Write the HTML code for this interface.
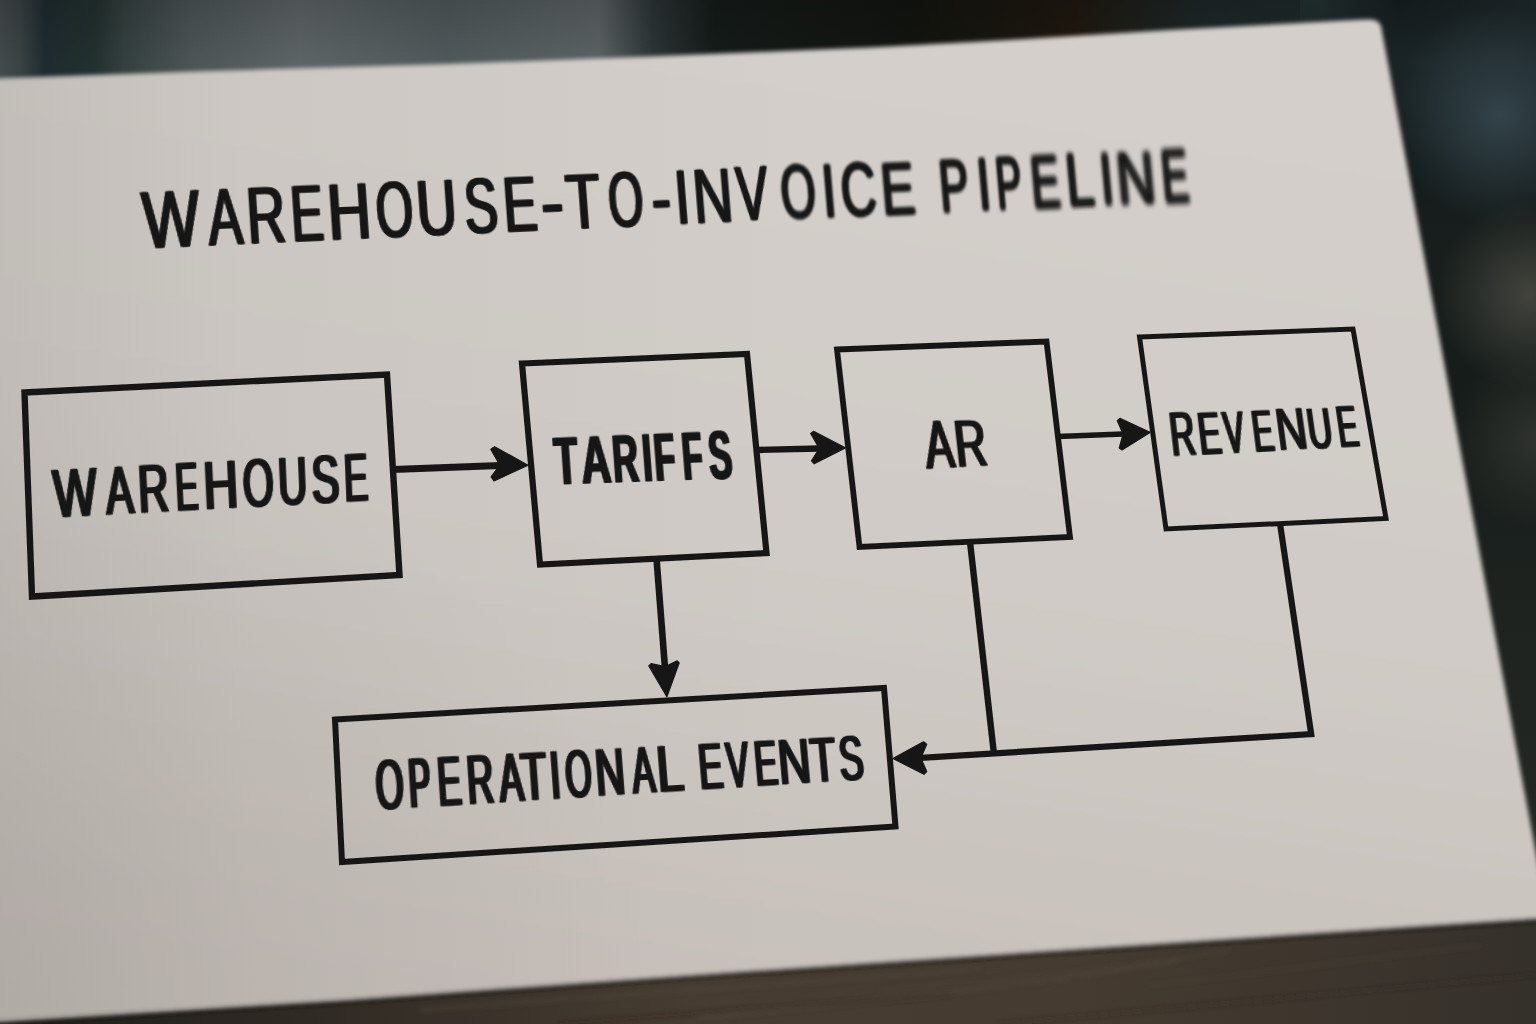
<!DOCTYPE html>
<html><head><meta charset="utf-8"><title>Warehouse-to-Invoice Pipeline</title>
<style>
html,body{margin:0;padding:0;width:1536px;height:1024px;overflow:hidden;background:#1c2224;}
.t{position:absolute;left:0;top:0;transform-origin:0 0;overflow:visible;}
text{font-family:"Liberation Sans",sans-serif;font-kerning:none;}
</style></head><body>
<svg width="1536" height="1024" viewBox="0 0 1536 1024" style="position:absolute;left:0;top:0">
<defs>
 <filter id="woodblur" x="-10%" y="-50%" width="120%" height="200%"><feGaussianBlur stdDeviation="2.5"/></filter>
 <filter id="e1"><feGaussianBlur stdDeviation="0.6"/></filter>
 <linearGradient id="topg" x1="0" y1="0" x2="1536" y2="0" gradientUnits="userSpaceOnUse">
  <stop offset="0" stop-color="#434a4b"/>
  <stop offset="0.013" stop-color="#3a4243"/>
  <stop offset="0.029" stop-color="#1f2b2f"/>
  <stop offset="0.062" stop-color="#22302e"/>
  <stop offset="0.081" stop-color="#34403f"/>
  <stop offset="0.124" stop-color="#4c5455"/>
  <stop offset="0.195" stop-color="#5d6466"/>
  <stop offset="0.29" stop-color="#4f585a"/>
  <stop offset="0.39" stop-color="#5b6264"/>
  <stop offset="0.425" stop-color="#2c3436"/>
  <stop offset="0.465" stop-color="#151b19"/>
  <stop offset="0.59" stop-color="#121410"/>
  <stop offset="0.70" stop-color="#1f180f"/>
  <stop offset="0.78" stop-color="#1d2728"/>
  <stop offset="0.86" stop-color="#1e292a"/>
  <stop offset="0.91" stop-color="#131a1a"/>
  <stop offset="1" stop-color="#1a2325"/>
 </linearGradient>
 <linearGradient id="topshade" x1="0" y1="0" x2="0" y2="90" gradientUnits="userSpaceOnUse">
  <stop offset="0" stop-color="#000" stop-opacity="0.16"/>
  <stop offset="0.7" stop-color="#000" stop-opacity="0"/>
 </linearGradient>
 <linearGradient id="rightg" x1="0" y1="0" x2="0" y2="1024" gradientUnits="userSpaceOnUse">
  <stop offset="0" stop-color="#1a2426" stop-opacity="0"/>
  <stop offset="0.06" stop-color="#1a2426" stop-opacity="1"/>
  <stop offset="0.16" stop-color="#141c1c"/>
  <stop offset="0.25" stop-color="#181e1c"/>
  <stop offset="0.4" stop-color="#161c1a"/>
  <stop offset="0.6" stop-color="#1e2320"/>
  <stop offset="0.83" stop-color="#232823"/>
  <stop offset="1" stop-color="#2a2a24"/>
 </linearGradient>
 <radialGradient id="blobA" cx="1500" cy="115" r="110" gradientUnits="userSpaceOnUse">
  <stop offset="0" stop-color="#33434a" stop-opacity="1"/>
  <stop offset="1" stop-color="#33434a" stop-opacity="0"/>
 </radialGradient>
 <radialGradient id="blobB" cx="1530" cy="295" r="95" gradientUnits="userSpaceOnUse">
  <stop offset="0" stop-color="#42433d" stop-opacity="1"/>
  <stop offset="1" stop-color="#42433d" stop-opacity="0"/>
 </radialGradient>
 <radialGradient id="blobC" cx="1540" cy="440" r="90" gradientUnits="userSpaceOnUse">
  <stop offset="0" stop-color="#30332e" stop-opacity="1"/>
  <stop offset="1" stop-color="#30332e" stop-opacity="0"/>
 </radialGradient>
 <linearGradient id="woodg" x1="0" y1="0" x2="1536" y2="0" gradientUnits="userSpaceOnUse">
  <stop offset="0" stop-color="#201e1b"/>
  <stop offset="0.2" stop-color="#302a24"/>
  <stop offset="0.45" stop-color="#463c31"/>
  <stop offset="0.7" stop-color="#453b30"/>
  <stop offset="0.88" stop-color="#3c352d"/>
  <stop offset="1" stop-color="#34302a"/>
 </linearGradient>
 <linearGradient id="cardg" x1="700" y1="60" x2="560" y2="1010" gradientUnits="userSpaceOnUse">
  <stop offset="0" stop-color="#d4cfca"/>
  <stop offset="0.5" stop-color="#d0cbc6"/>
  <stop offset="1" stop-color="#c6bfba"/>
 </linearGradient>
 <linearGradient id="cardleft" x1="0" y1="0" x2="800" y2="0" gradientUnits="userSpaceOnUse">
  <stop offset="0" stop-color="#8a8681" stop-opacity="0.22"/>
  <stop offset="0.3" stop-color="#8a8681" stop-opacity="0.09"/>
  <stop offset="1" stop-color="#8a8681" stop-opacity="0"/>
 </linearGradient>
 <radialGradient id="cardshade" cx="0" cy="1024" r="650" gradientUnits="userSpaceOnUse">
  <stop offset="0" stop-color="#9e9893" stop-opacity="0.3"/>
  <stop offset="1" stop-color="#9e9893" stop-opacity="0"/>
 </radialGradient>
 <filter id="cardblur" x="-5%" y="-5%" width="110%" height="110%"><feGaussianBlur stdDeviation="2.2"/></filter>
</defs>
<rect x="0" y="0" width="1536" height="1024" fill="url(#topg)"/>
<rect x="0" y="0" width="1300" height="90" fill="url(#topshade)"/>
<rect x="1300" y="0" width="236" height="1024" fill="url(#rightg)"/>
<rect x="1300" y="0" width="236" height="1024" fill="url(#blobA)"/>
<rect x="1300" y="0" width="236" height="1024" fill="url(#blobB)"/>
<rect x="1300" y="0" width="236" height="1024" fill="url(#blobC)"/>
<polygon points="-20,960 1600,860 1600,1100 -20,1100" fill="url(#woodg)"/>
<g filter="url(#woodblur)" fill="none" stroke-linecap="round">
 <path d="M420,1010 C600,995 800,985 980,968" stroke="#54483a" stroke-width="3" opacity="0.55"/>
 <path d="M700,1018 C850,1003 1000,990 1180,960" stroke="#56493b" stroke-width="3" opacity="0.5"/>
 <path d="M880,990 C1000,980 1100,972 1230,950" stroke="#4f4437" stroke-width="2.5" opacity="0.5"/>
 <path d="M1150,985 C1250,975 1350,960 1480,945" stroke="#4a4035" stroke-width="2.5" opacity="0.45"/>
 <path d="M560,1024 C700,1012 820,1005 950,995" stroke="#2c2620" stroke-width="4" opacity="0.3"/>
 <path d="M1000,1024 C1150,1010 1300,995 1536,975" stroke="#2a2520" stroke-width="5" opacity="0.25"/>
</g>
<g filter="url(#cardblur)"><polyline points="-20,1023.5 0,1022.3 350,1000.8 710,975.2 1070,951 1430,926.8 1548,919" stroke="#1c1a17" stroke-width="4" fill="none"/><polygon points="-20.0,79.3 0.0,78.6 200.0,71.5 450.0,64.1 650.0,56.5 880.0,47.0 1000.0,40.5 1170.0,30.0 1360.0,19.8 1372.0,19.6 1378.0,21.5 1381.0,26.0 1548.0,917.2 1430.0,925.0 1070.0,949.2 710.0,973.4 350.0,999.0 0.0,1020.5 -20.0,1021.7" fill="url(#cardg)"/></g><polygon points="-20.0,79.3 0.0,78.6 200.0,71.5 450.0,64.1 650.0,56.5 880.0,47.0 1000.0,40.5 1170.0,30.0 1360.0,19.8 1372.0,19.6 1378.0,21.5 1381.0,26.0 1548.0,917.2 1430.0,925.0 1070.0,949.2 710.0,973.4 350.0,999.0 0.0,1020.5 -20.0,1021.7" fill="url(#cardleft)"/><polygon points="-20.0,79.3 0.0,78.6 200.0,71.5 450.0,64.1 650.0,56.5 880.0,47.0 1000.0,40.5 1170.0,30.0 1360.0,19.8 1372.0,19.6 1378.0,21.5 1381.0,26.0 1548.0,917.2 1430.0,925.0 1070.0,949.2 710.0,973.4 350.0,999.0 0.0,1020.5 -20.0,1021.7" fill="url(#cardshade)"/><g fill="none" stroke="#181818" stroke-linejoin="miter" stroke-linecap="square" filter="url(#e1)"><polygon points="24.5,392.5 387.0,374.5 399.5,575.0 32.0,596.5" stroke-width="6.4"/><polygon points="522.0,363.5 747.0,354.0 766.5,553.0 540.0,564.5" stroke-width="6.2"/><polygon points="837.0,349.5 1046.5,341.5 1070.0,537.0 859.5,547.0" stroke-width="5.8"/><polygon points="1139.5,337.0 1353.0,329.0 1386.0,518.5 1166.0,529.0" stroke-width="5.0"/><polygon points="335.0,719.5 884.0,688.0 895.5,826.5 342.0,862.0" stroke-width="6.0"/><polyline points="392.9,469.5 500.0,465.5" stroke-width="6.8" stroke-linecap="butt"/><polyline points="756.4,450.0 819.3,448.5" stroke-width="6.4" stroke-linecap="butt"/><polyline points="1057.9,436.5 1123.1,434.0" stroke-width="5.4" stroke-linecap="butt"/><polyline points="656.5,558.6 664.9,666.7" stroke-width="6.6" stroke-linecap="butt"/><polyline points="970.0,541.8 993.8,752.6" stroke-width="6.4" stroke-linecap="butt"/><polyline points="1280.0,523.6 1311.2,734.1 920.8,757.9" stroke-width="6.2" stroke-linecap="butt"/></g><g fill="#181818" stroke="#181818" stroke-width="1.2" stroke-linejoin="round" filter="url(#e1)"><polygon points="528.0,465.2 494.6,446.7 490.8,449.3 499.9,465.2 491.1,476.9 494.0,481.0"/><polygon points="845.3,447.9 813.6,431.3 810.7,433.4 819.3,448.5 811.5,460.8 814.2,463.8"/><polygon points="1150.0,432.4 1119.9,418.4 1117.2,420.6 1123.1,434.0 1119.3,448.0 1122.0,450.1"/><polygon points="666.9,696.7 648.8,666.0 651.2,663.6 664.9,666.7 677.2,660.8 679.2,662.9"/><polygon points="892.9,758.5 923.5,741.8 926.7,744.2 920.8,757.9 926.7,771.6 924.0,774.3"/></g></svg>
<svg class="t" width="1104" height="103" style="transform:matrix3d(1.11327559,-0.0262661943,0,9.51054367e-05,0.0594693473,1.04140128,0,-3.1838036e-05,0,0,1,0,117.222883,172.440878,0,1);"><defs><filter id="gb2" x="-50%" y="-50%" width="200%" height="200%"><feGaussianBlur stdDeviation="0.2"/></filter><filter id="gb4" x="-50%" y="-50%" width="200%" height="200%"><feGaussianBlur stdDeviation="0.4"/></filter><filter id="gb6" x="-50%" y="-50%" width="200%" height="200%"><feGaussianBlur stdDeviation="0.6"/></filter><filter id="gb8" x="-50%" y="-50%" width="200%" height="200%"><feGaussianBlur stdDeviation="0.8"/></filter><filter id="gb9" x="-50%" y="-50%" width="200%" height="200%"><feGaussianBlur stdDeviation="0.9"/></filter><filter id="gb11" x="-50%" y="-50%" width="200%" height="200%"><feGaussianBlur stdDeviation="1.1"/></filter><filter id="gb13" x="-50%" y="-50%" width="200%" height="200%"><feGaussianBlur stdDeviation="1.3"/></filter><filter id="gb15" x="-50%" y="-50%" width="200%" height="200%"><feGaussianBlur stdDeviation="1.5"/></filter><filter id="gb17" x="-50%" y="-50%" width="200%" height="200%"><feGaussianBlur stdDeviation="1.7"/></filter><filter id="gb19" x="-50%" y="-50%" width="200%" height="200%"><feGaussianBlur stdDeviation="1.9"/></filter><filter id="gb21" x="-50%" y="-50%" width="200%" height="200%"><feGaussianBlur stdDeviation="2.1"/></filter><filter id="gb23" x="-50%" y="-50%" width="200%" height="200%"><feGaussianBlur stdDeviation="2.3"/></filter><filter id="gb24" x="-50%" y="-50%" width="200%" height="200%"><feGaussianBlur stdDeviation="2.4"/></filter><filter id="gb26" x="-50%" y="-50%" width="200%" height="200%"><feGaussianBlur stdDeviation="2.6"/></filter><filter id="gb28" x="-50%" y="-50%" width="200%" height="200%"><feGaussianBlur stdDeviation="2.8"/></filter><filter id="gb30" x="-50%" y="-50%" width="200%" height="200%"><feGaussianBlur stdDeviation="3.0"/></filter><filter id="gb32" x="-50%" y="-50%" width="200%" height="200%"><feGaussianBlur stdDeviation="3.2"/></filter></defs><g font-size="77.03" font-weight="normal" fill="#161616" stroke="#161616" stroke-width="0.77" stroke-linejoin="round"><text transform="matrix(0.71784,0,0,1,19.20,0)" x="0" y="73.15" vector-effect="non-scaling-stroke">W</text><text transform="matrix(0.71784,0,0,1,21.13,0)" x="0" y="73.15" vector-effect="non-scaling-stroke">W</text><text transform="matrix(0.61136,0,0,1,79.25,0)" x="0" y="73.15" vector-effect="non-scaling-stroke">A</text><text transform="matrix(0.61136,0,0,1,81.17,0)" x="0" y="73.15" vector-effect="non-scaling-stroke">A</text><text transform="matrix(0.64636,0,0,1,114.93,0)" x="0" y="73.15" vector-effect="non-scaling-stroke">R</text><text transform="matrix(0.64636,0,0,1,116.85,0)" x="0" y="73.15" vector-effect="non-scaling-stroke">R</text><text transform="matrix(0.58704,0,0,1,156.04,0)" x="0" y="73.15" vector-effect="non-scaling-stroke">E</text><text transform="matrix(0.58704,0,0,1,157.97,0)" x="0" y="73.15" vector-effect="non-scaling-stroke">E</text><text transform="matrix(0.73553,0,0,1,190.26,0)" x="0" y="73.15" vector-effect="non-scaling-stroke">H</text><text transform="matrix(0.73553,0,0,1,192.19,0)" x="0" y="73.15" vector-effect="non-scaling-stroke">H</text><text transform="matrix(0.58852,0,0,1,235.99,0)" x="0" y="73.15" vector-effect="non-scaling-stroke">O</text><text transform="matrix(0.58852,0,0,1,237.91,0)" x="0" y="73.15" vector-effect="non-scaling-stroke">O</text><text transform="matrix(0.69121,0,0,1,274.65,0)" x="0" y="73.15" vector-effect="non-scaling-stroke">U</text><text transform="matrix(0.69121,0,0,1,276.58,0)" x="0" y="73.15" vector-effect="non-scaling-stroke">U</text><text transform="matrix(0.62136,0,0,1,320.50,0)" x="0" y="73.15" vector-effect="non-scaling-stroke">S</text><text transform="matrix(0.62136,0,0,1,322.43,0)" x="0" y="73.15" vector-effect="non-scaling-stroke">S</text><text transform="matrix(0.63757,0,0,1,357.95,0)" x="0" y="73.15" vector-effect="non-scaling-stroke">E</text><text transform="matrix(0.63757,0,0,1,359.88,0)" x="0" y="73.15" vector-effect="non-scaling-stroke">E</text><text transform="matrix(0.88301,0,0,1,394.33,0)" x="0" y="73.15" vector-effect="non-scaling-stroke">-</text><text transform="matrix(0.88301,0,0,1,396.26,0)" x="0" y="73.15" vector-effect="non-scaling-stroke">-</text><text transform="matrix(0.71752,0,0,1,419.39,0)" x="0" y="73.15" vector-effect="non-scaling-stroke">T</text><text transform="matrix(0.71752,0,0,1,421.31,0)" x="0" y="73.15" vector-effect="non-scaling-stroke">T</text><text transform="matrix(0.57607,0,0,1,460.79,0)" x="0" y="73.15" vector-effect="non-scaling-stroke" filter="url(#gb2)">O</text><text transform="matrix(0.57607,0,0,1,462.72,0)" x="0" y="73.15" vector-effect="non-scaling-stroke" filter="url(#gb2)">O</text><text transform="matrix(0.73953,0,0,1,503.66,0)" x="0" y="73.15" vector-effect="non-scaling-stroke" filter="url(#gb4)">-</text><text transform="matrix(0.73953,0,0,1,505.59,0)" x="0" y="73.15" vector-effect="non-scaling-stroke" filter="url(#gb4)">-</text><text transform="matrix(0.62946,0,0,1,527.46,0)" x="0" y="73.15" vector-effect="non-scaling-stroke" filter="url(#gb6)">I</text><text transform="matrix(0.62946,0,0,1,529.39,0)" x="0" y="73.15" vector-effect="non-scaling-stroke" filter="url(#gb6)">I</text><text transform="matrix(0.71686,0,0,1,545.09,0)" x="0" y="73.15" vector-effect="non-scaling-stroke" filter="url(#gb8)">N</text><text transform="matrix(0.71686,0,0,1,547.01,0)" x="0" y="73.15" vector-effect="non-scaling-stroke" filter="url(#gb8)">N</text><text transform="matrix(0.61772,0,0,1,589.15,0)" x="0" y="73.15" vector-effect="non-scaling-stroke" filter="url(#gb9)">V</text><text transform="matrix(0.61772,0,0,1,591.08,0)" x="0" y="73.15" vector-effect="non-scaling-stroke" filter="url(#gb9)">V</text><text transform="matrix(0.59606,0,0,1,633.81,0)" x="0" y="73.15" vector-effect="non-scaling-stroke" filter="url(#gb11)">O</text><text transform="matrix(0.59606,0,0,1,635.73,0)" x="0" y="73.15" vector-effect="non-scaling-stroke" filter="url(#gb11)">O</text><text transform="matrix(0.62946,0,0,1,676.44,0)" x="0" y="73.15" vector-effect="non-scaling-stroke" filter="url(#gb13)">I</text><text transform="matrix(0.62946,0,0,1,678.36,0)" x="0" y="73.15" vector-effect="non-scaling-stroke" filter="url(#gb13)">I</text><text transform="matrix(0.65596,0,0,1,695.25,0)" x="0" y="73.15" vector-effect="non-scaling-stroke" filter="url(#gb15)">C</text><text transform="matrix(0.65596,0,0,1,697.18,0)" x="0" y="73.15" vector-effect="non-scaling-stroke" filter="url(#gb15)">C</text><text transform="matrix(0.68748,0,0,1,736.69,0)" x="0" y="73.15" vector-effect="non-scaling-stroke" filter="url(#gb17)">E</text><text transform="matrix(0.68748,0,0,1,738.61,0)" x="0" y="73.15" vector-effect="non-scaling-stroke" filter="url(#gb17)">E</text><text transform="matrix(0.60105,0,0,1,797.67,0)" x="0" y="73.15" vector-effect="non-scaling-stroke" filter="url(#gb19)">P</text><text transform="matrix(0.60105,0,0,1,799.60,0)" x="0" y="73.15" vector-effect="non-scaling-stroke" filter="url(#gb19)">P</text><text transform="matrix(0.62946,0,0,1,837.89,0)" x="0" y="73.15" vector-effect="non-scaling-stroke" filter="url(#gb21)">I</text><text transform="matrix(0.62946,0,0,1,839.82,0)" x="0" y="73.15" vector-effect="non-scaling-stroke" filter="url(#gb21)">I</text><text transform="matrix(0.52792,0,0,1,857.54,0)" x="0" y="73.15" vector-effect="non-scaling-stroke" filter="url(#gb23)">P</text><text transform="matrix(0.52792,0,0,1,859.46,0)" x="0" y="73.15" vector-effect="non-scaling-stroke" filter="url(#gb23)">P</text><text transform="matrix(0.60387,0,0,1,894.64,0)" x="0" y="73.15" vector-effect="non-scaling-stroke" filter="url(#gb24)">E</text><text transform="matrix(0.60387,0,0,1,896.57,0)" x="0" y="73.15" vector-effect="non-scaling-stroke" filter="url(#gb24)">E</text><text transform="matrix(0.71038,0,0,1,932.02,0)" x="0" y="73.15" vector-effect="non-scaling-stroke" filter="url(#gb26)">L</text><text transform="matrix(0.71038,0,0,1,933.95,0)" x="0" y="73.15" vector-effect="non-scaling-stroke" filter="url(#gb26)">L</text><text transform="matrix(0.62946,0,0,1,969.44,0)" x="0" y="73.15" vector-effect="non-scaling-stroke" filter="url(#gb28)">I</text><text transform="matrix(0.62946,0,0,1,971.36,0)" x="0" y="73.15" vector-effect="non-scaling-stroke" filter="url(#gb28)">I</text><text transform="matrix(0.75525,0,0,1,986.83,0)" x="0" y="73.15" vector-effect="non-scaling-stroke" filter="url(#gb30)">N</text><text transform="matrix(0.75525,0,0,1,988.76,0)" x="0" y="73.15" vector-effect="non-scaling-stroke" filter="url(#gb30)">N</text><text transform="matrix(0.57600,0,0,1,1035.89,0)" x="0" y="73.15" vector-effect="non-scaling-stroke" filter="url(#gb32)">E</text><text transform="matrix(0.57600,0,0,1,1037.82,0)" x="0" y="73.15" vector-effect="non-scaling-stroke" filter="url(#gb32)">E</text></g></svg><svg class="t" width="374" height="96" style="transform:matrix3d(1.01404122,-0.0391890671,0,3.02665413e-05,0.058558808,1.03357771,0,5.33998135e-05,0,0,1,0,30.5348451,451.199193,0,1);"><g font-size="67.83" font-weight="normal" fill="#161616" stroke="#161616" stroke-width="0.85" stroke-linejoin="round"><text transform="matrix(0.67337,0,0,1,18.91,0)" x="0" y="66.80" vector-effect="non-scaling-stroke">W</text><text transform="matrix(0.67337,0,0,1,21.28,0)" x="0" y="66.80" vector-effect="non-scaling-stroke">W</text><text transform="matrix(0.59899,0,0,1,71.12,0)" x="0" y="66.80" vector-effect="non-scaling-stroke">A</text><text transform="matrix(0.59899,0,0,1,73.49,0)" x="0" y="66.80" vector-effect="non-scaling-stroke">A</text><text transform="matrix(0.61681,0,0,1,103.28,0)" x="0" y="66.80" vector-effect="non-scaling-stroke">R</text><text transform="matrix(0.61681,0,0,1,105.66,0)" x="0" y="66.80" vector-effect="non-scaling-stroke">R</text><text transform="matrix(0.49636,0,0,1,140.32,0)" x="0" y="66.80" vector-effect="non-scaling-stroke">E</text><text transform="matrix(0.49636,0,0,1,142.70,0)" x="0" y="66.80" vector-effect="non-scaling-stroke">E</text><text transform="matrix(0.71076,0,0,1,168.13,0)" x="0" y="66.80" vector-effect="non-scaling-stroke">H</text><text transform="matrix(0.71076,0,0,1,170.50,0)" x="0" y="66.80" vector-effect="non-scaling-stroke">H</text><text transform="matrix(0.58253,0,0,1,207.83,0)" x="0" y="66.80" vector-effect="non-scaling-stroke">O</text><text transform="matrix(0.58253,0,0,1,210.21,0)" x="0" y="66.80" vector-effect="non-scaling-stroke">O</text><text transform="matrix(0.59250,0,0,1,243.11,0)" x="0" y="66.80" vector-effect="non-scaling-stroke">U</text><text transform="matrix(0.59250,0,0,1,245.48,0)" x="0" y="66.80" vector-effect="non-scaling-stroke">U</text><text transform="matrix(0.61191,0,0,1,276.82,0)" x="0" y="66.80" vector-effect="non-scaling-stroke">S</text><text transform="matrix(0.61191,0,0,1,279.20,0)" x="0" y="66.80" vector-effect="non-scaling-stroke">S</text><text transform="matrix(0.52962,0,0,1,309.35,0)" x="0" y="66.80" vector-effect="non-scaling-stroke">E</text><text transform="matrix(0.52962,0,0,1,311.73,0)" x="0" y="66.80" vector-effect="non-scaling-stroke">E</text></g></svg><svg class="t" width="238" height="96" style="transform:matrix3d(0.920718357,-0.0827928121,0,-9.89000939e-05,0.00243861758,0.933528641,0,-0.000110915317,0,0,1,0,532.216302,419.346461,0,1);"><g font-size="67.54" font-weight="bold" fill="#161616" stroke="#161616" stroke-width="0.68" stroke-linejoin="round"><text transform="matrix(0.57796,0,0,1,18.93,0)" x="0" y="66.60" vector-effect="non-scaling-stroke">T</text><text transform="matrix(0.57796,0,0,1,20.62,0)" x="0" y="66.60" vector-effect="non-scaling-stroke">T</text><text transform="matrix(0.60823,0,0,1,46.12,0)" x="0" y="66.60" vector-effect="non-scaling-stroke">A</text><text transform="matrix(0.60823,0,0,1,47.81,0)" x="0" y="66.60" vector-effect="non-scaling-stroke">A</text><text transform="matrix(0.52987,0,0,1,77.73,0)" x="0" y="66.60" vector-effect="non-scaling-stroke">R</text><text transform="matrix(0.52987,0,0,1,79.41,0)" x="0" y="66.60" vector-effect="non-scaling-stroke">R</text><text transform="matrix(0.51681,0,0,1,107.76,0)" x="0" y="66.60" vector-effect="non-scaling-stroke">I</text><text transform="matrix(0.51681,0,0,1,109.45,0)" x="0" y="66.60" vector-effect="non-scaling-stroke">I</text><text transform="matrix(0.50374,0,0,1,119.52,0)" x="0" y="66.60" vector-effect="non-scaling-stroke">F</text><text transform="matrix(0.50374,0,0,1,121.21,0)" x="0" y="66.60" vector-effect="non-scaling-stroke">F</text><text transform="matrix(0.48332,0,0,1,147.46,0)" x="0" y="66.60" vector-effect="non-scaling-stroke">F</text><text transform="matrix(0.48332,0,0,1,149.15,0)" x="0" y="66.60" vector-effect="non-scaling-stroke">F</text><text transform="matrix(0.50063,0,0,1,173.71,0)" x="0" y="66.60" vector-effect="non-scaling-stroke">S</text><text transform="matrix(0.50063,0,0,1,175.39,0)" x="0" y="66.60" vector-effect="non-scaling-stroke">S</text></g></svg><svg class="t" width="121" height="95" style="transform:matrix3d(1.77374127,0.309123183,0,0.000774656157,0.0324151182,0.997451322,0,-8.44772254e-05,0,0,1,0,896.576165,401.186718,0,1);"><g font-size="66.45" font-weight="normal" fill="#161616" stroke="#161616" stroke-width="0.83" stroke-linejoin="round"><text transform="matrix(0.62004,0,0,1,21.17,0)" x="0" y="65.85" vector-effect="non-scaling-stroke">A</text><text transform="matrix(0.62004,0,0,1,23.50,0)" x="0" y="65.85" vector-effect="non-scaling-stroke">A</text><text transform="matrix(0.67654,0,0,1,50.13,0)" x="0" y="65.85" vector-effect="non-scaling-stroke">R</text><text transform="matrix(0.67654,0,0,1,52.46,0)" x="0" y="65.85" vector-effect="non-scaling-stroke">R</text></g></svg><svg class="t" width="241" height="90" style="transform:matrix3d(1.50179703,0.113529839,0,0.00037080323,-0.121817305,0.944389334,0,-0.000203018604,0,0,1,0,1147.32992,394.331209,0,1);"><g font-size="58.48" font-weight="normal" fill="#161616" stroke="#161616" stroke-width="0.73" stroke-linejoin="round"><text transform="matrix(0.55090,0,0,1,15.97,0)" x="0" y="60.35" vector-effect="non-scaling-stroke">R</text><text transform="matrix(0.55090,0,0,1,18.02,0)" x="0" y="60.35" vector-effect="non-scaling-stroke">R</text><text transform="matrix(0.54913,0,0,1,42.43,0)" x="0" y="60.35" vector-effect="non-scaling-stroke">E</text><text transform="matrix(0.54913,0,0,1,44.48,0)" x="0" y="60.35" vector-effect="non-scaling-stroke">E</text><text transform="matrix(0.49917,0,0,1,67.36,0)" x="0" y="60.35" vector-effect="non-scaling-stroke">V</text><text transform="matrix(0.49917,0,0,1,69.41,0)" x="0" y="60.35" vector-effect="non-scaling-stroke">V</text><text transform="matrix(0.52359,0,0,1,95.16,0)" x="0" y="60.35" vector-effect="non-scaling-stroke">E</text><text transform="matrix(0.52359,0,0,1,97.21,0)" x="0" y="60.35" vector-effect="non-scaling-stroke">E</text><text transform="matrix(0.73320,0,0,1,118.78,0)" x="0" y="60.35" vector-effect="non-scaling-stroke">N</text><text transform="matrix(0.73320,0,0,1,120.83,0)" x="0" y="60.35" vector-effect="non-scaling-stroke">N</text><text transform="matrix(0.59048,0,0,1,150.94,0)" x="0" y="60.35" vector-effect="non-scaling-stroke">U</text><text transform="matrix(0.59048,0,0,1,152.99,0)" x="0" y="60.35" vector-effect="non-scaling-stroke">U</text><text transform="matrix(0.56247,0,0,1,181.56,0)" x="0" y="60.35" vector-effect="non-scaling-stroke">E</text><text transform="matrix(0.56247,0,0,1,183.60,0)" x="0" y="60.35" vector-effect="non-scaling-stroke">E</text></g></svg><svg class="t" width="546" height="95" style="transform:matrix3d(1.22542228,0.13906214,0,0.000259002358,0.0364153243,1.00566165,0,-7.21546852e-05,0,0,1,0,350.361616,740.949346,0,1);"><g font-size="66.30" font-weight="normal" fill="#161616" stroke="#161616" stroke-width="0.83" stroke-linejoin="round"><text transform="matrix(0.47421,0,0,1,19.05,0)" x="0" y="65.75" vector-effect="non-scaling-stroke">O</text><text transform="matrix(0.47421,0,0,1,21.53,0)" x="0" y="65.75" vector-effect="non-scaling-stroke">O</text><text transform="matrix(0.44585,0,0,1,48.36,0)" x="0" y="65.75" vector-effect="non-scaling-stroke">P</text><text transform="matrix(0.44585,0,0,1,50.84,0)" x="0" y="65.75" vector-effect="non-scaling-stroke">P</text><text transform="matrix(0.48574,0,0,1,74.39,0)" x="0" y="65.75" vector-effect="non-scaling-stroke">E</text><text transform="matrix(0.48574,0,0,1,76.88,0)" x="0" y="65.75" vector-effect="non-scaling-stroke">E</text><text transform="matrix(0.51607,0,0,1,101.49,0)" x="0" y="65.75" vector-effect="non-scaling-stroke">R</text><text transform="matrix(0.51607,0,0,1,103.97,0)" x="0" y="65.75" vector-effect="non-scaling-stroke">R</text><text transform="matrix(0.50587,0,0,1,131.69,0)" x="0" y="65.75" vector-effect="non-scaling-stroke">A</text><text transform="matrix(0.50587,0,0,1,134.18,0)" x="0" y="65.75" vector-effect="non-scaling-stroke">A</text><text transform="matrix(0.59837,0,0,1,152.52,0)" x="0" y="65.75" vector-effect="non-scaling-stroke">T</text><text transform="matrix(0.59837,0,0,1,155.00,0)" x="0" y="65.75" vector-effect="non-scaling-stroke">T</text><text transform="matrix(0.53735,0,0,1,180.07,0)" x="0" y="65.75" vector-effect="non-scaling-stroke">I</text><text transform="matrix(0.53735,0,0,1,182.55,0)" x="0" y="65.75" vector-effect="non-scaling-stroke">I</text><text transform="matrix(0.48851,0,0,1,195.09,0)" x="0" y="65.75" vector-effect="non-scaling-stroke">O</text><text transform="matrix(0.48851,0,0,1,197.58,0)" x="0" y="65.75" vector-effect="non-scaling-stroke">O</text><text transform="matrix(0.61350,0,0,1,224.21,0)" x="0" y="65.75" vector-effect="non-scaling-stroke">N</text><text transform="matrix(0.61350,0,0,1,226.70,0)" x="0" y="65.75" vector-effect="non-scaling-stroke">N</text><text transform="matrix(0.50955,0,0,1,260.79,0)" x="0" y="65.75" vector-effect="non-scaling-stroke">A</text><text transform="matrix(0.50955,0,0,1,263.28,0)" x="0" y="65.75" vector-effect="non-scaling-stroke">A</text><text transform="matrix(0.73650,0,0,1,285.61,0)" x="0" y="65.75" vector-effect="non-scaling-stroke">L</text><text transform="matrix(0.73650,0,0,1,288.10,0)" x="0" y="65.75" vector-effect="non-scaling-stroke">L</text><text transform="matrix(0.56332,0,0,1,328.62,0)" x="0" y="65.75" vector-effect="non-scaling-stroke">E</text><text transform="matrix(0.56332,0,0,1,331.10,0)" x="0" y="65.75" vector-effect="non-scaling-stroke">E</text><text transform="matrix(0.51974,0,0,1,358.04,0)" x="0" y="65.75" vector-effect="non-scaling-stroke">V</text><text transform="matrix(0.51974,0,0,1,360.53,0)" x="0" y="65.75" vector-effect="non-scaling-stroke">V</text><text transform="matrix(0.55497,0,0,1,387.12,0)" x="0" y="65.75" vector-effect="non-scaling-stroke">E</text><text transform="matrix(0.55497,0,0,1,389.61,0)" x="0" y="65.75" vector-effect="non-scaling-stroke">E</text><text transform="matrix(0.73347,0,0,1,412.56,0)" x="0" y="65.75" vector-effect="non-scaling-stroke">N</text><text transform="matrix(0.73347,0,0,1,415.05,0)" x="0" y="65.75" vector-effect="non-scaling-stroke">N</text><text transform="matrix(0.68619,0,0,1,448.06,0)" x="0" y="65.75" vector-effect="non-scaling-stroke">T</text><text transform="matrix(0.68619,0,0,1,450.54,0)" x="0" y="65.75" vector-effect="non-scaling-stroke">T</text><text transform="matrix(0.60591,0,0,1,479.52,0)" x="0" y="65.75" vector-effect="non-scaling-stroke">S</text><text transform="matrix(0.60591,0,0,1,482.01,0)" x="0" y="65.75" vector-effect="non-scaling-stroke">S</text></g></svg>
</body></html>
